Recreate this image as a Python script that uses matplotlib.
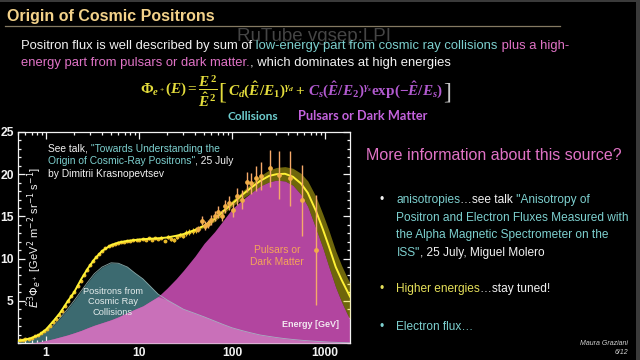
import matplotlib
matplotlib.use('Agg')
import matplotlib.pyplot as plt
import matplotlib.patches as patches
import numpy as np

W, H = 640, 360

# Model curves (energy in GeV, E^3 flux)
E_model = [0.5, 0.6, 0.7, 0.85, 1.0, 1.2, 1.4, 1.7, 2.0, 2.4, 2.8, 3.3, 4.0, 5.0, 6.0,
           7.5, 9, 11, 13, 16, 20, 25, 30, 40, 50, 65, 80, 100, 130, 160, 200, 250,
           300, 370, 450, 550, 650, 800, 950, 1100, 1300, 1500, 1700, 1850]
collisions = [0.1, 0.3, 0.5, 0.85, 1.4, 2.1, 2.9, 4.0, 5.0, 6.2, 7.2, 8.2, 9.0, 9.5, 9.45,
              9.0, 8.3, 7.6, 6.8, 5.8, 5.1, 4.5, 4.0, 3.5, 3.1, 2.6, 2.2, 1.8, 1.45, 1.2,
              0.95, 0.78, 0.65, 0.52, 0.42, 0.33, 0.27, 0.2, 0.15, 0.11, 0.08, 0.05, 0.03, 0.02]
pulsars = [0.0, 0.0, 0.02, 0.12, 0.3, 0.5, 0.7, 0.95, 1.2, 1.5, 1.8, 2.1, 2.4, 2.75, 3.1,
           3.6, 4.0, 4.4, 4.9, 5.5, 6.5, 7.6, 8.6, 10.3, 11.8, 13.2, 14.5, 15.9, 17.0, 17.8,
           18.6, 19.1, 19.3, 19.2, 18.7, 17.6, 16.2, 13.5, 11.2, 9.0, 6.6, 4.9, 3.6, 2.8]
total_fit = [0.25, 0.4, 0.6, 1.0, 1.6, 2.6, 3.5, 4.9, 6.0, 7.6, 8.8, 9.9, 10.9, 11.6, 11.9,
             12.1, 12.2, 12.3, 12.35, 12.4, 12.5, 12.7, 12.9, 13.4, 13.9, 14.7, 15.6, 16.5,
             17.6, 18.4, 19.2, 19.8, 20.0, 20.05, 19.7, 18.9, 17.8, 15.6, 13.4, 11.4, 9.0,
             7.5, 6.3, 5.5]

# Uncertainty band of the fit
E_band = [30, 40, 50, 65, 80, 100, 130, 160, 200, 250, 300, 370, 450, 550, 650, 800,
          950, 1100, 1300, 1500, 1700, 1850]
band_low = [12.8, 13.2, 13.7, 14.4, 15.3, 16.2, 17.1, 17.8, 18.6, 19.1, 19.3, 19.2, 18.7,
            17.6, 16.2, 13.5, 11.2, 9.0, 6.6, 4.9, 3.6, 2.8]
band_high = [13.0, 13.6, 14.1, 15.0, 15.9, 16.9, 18.0, 18.9, 19.8, 20.5, 20.8, 20.9, 20.7,
             20.1, 19.2, 17.3, 15.2, 13.3, 10.9, 9.2, 7.9, 7.1]

# Measured points
E_low = [0.52, 0.56, 0.6, 0.65, 0.7, 0.76, 0.82, 0.88, 0.95, 1.02, 1.1, 1.18, 1.27, 1.37,
         1.48, 1.6, 1.73, 1.87, 2.02, 2.18, 2.35, 2.54, 2.74, 2.96, 3.2, 3.45, 3.73, 4.02,
         4.35, 4.7, 5.07, 5.48, 5.92, 6.39, 6.9, 7.45, 8.05, 8.69, 9.39, 10.1, 10.9, 11.8,
         12.8, 13.8, 14.9, 16.1, 17.4, 18.8, 20.3, 21.9, 23.7, 25.6, 27.6, 29.8, 32.2, 34.8,
         37.6, 40.6]
flux_low = [0.3, 0.35, 0.42, 0.5, 0.62, 0.78, 0.95, 1.15, 1.4, 1.68, 2.05, 2.45, 2.9, 3.35,
            3.85, 4.4, 5.0, 5.55, 6.1, 6.75, 7.4, 8.05, 8.65, 9.2, 9.75, 10.2, 10.6, 10.95,
            11.25, 11.45, 11.6, 11.75, 11.85, 11.95, 12.0, 12.05, 12.1, 12.15, 12.2, 12.15,
            12.3, 12.25, 12.4, 12.2, 12.45, 12.3, 12.5, 12.1, 12.6, 12.3, 12.2, 12.6, 12.8,
            12.7, 13.0, 13.1, 13.3, 13.4]
err_low = [0.1] * 40 + [0.15] * 8 + [0.25] * 6 + [0.35] * 4

E_high = [43, 47, 51, 55, 60, 65, 71, 77, 84, 92, 102, 114, 128, 143, 161, 181, 206, 254,
          317, 415, 565, 790]
flux_high = [13.5, 14.5, 13.9, 14.1, 14.6, 15.0, 15.5, 15.1, 16.2, 16.6, 15.8, 17.4, 17.0,
             19.1, 18.9, 19.5, 19.8, 20.7, 19.9, 19.5, 16.9, 11.0]
err_high = [0.4, 0.5, 0.5, 0.5, 0.6, 0.6, 0.7, 0.7, 0.8, 0.8, 0.9, 1.0, 1.1, 1.2, 1.3, 1.5,
            1.7, 2.2, 2.8, 3.3, 4.2, 6.5]

x_ticks = [1, 10, 100, 1000]
y_ticks = [5, 10, 15, 20, 25]

WHITE = '#f2f2f2'
TEAL_TXT = '#7dd0cf'
PINK_TXT = '#e073c6'
YELLOW_TXT = '#e6e05a'
FORM_YEL = '#e3dc3c'
FORM_PUR = '#b25ad0'

plt.rcParams['font.family'] = ['Liberation Sans', 'DejaVu Sans']
plt.rcParams['mathtext.fontset'] = 'custom'
plt.rcParams['mathtext.rm'] = 'Liberation Serif:bold'
plt.rcParams['mathtext.it'] = 'Liberation Serif:italic:bold'
plt.rcParams['mathtext.bf'] = 'Liberation Serif:bold'

fig = plt.figure(figsize=(W / 100, H / 100), dpi=100, facecolor='black')
renderer = fig.canvas.get_renderer()


def fx(x):
    return x / W


def fy(y):
    return 1 - y / H


def text_run(x, y, parts, **kw):
    """Draw pieces of text one after another on one baseline (pixel coords)."""
    for s, c in parts:
        t = fig.text(fx(x), fy(y), s, color=c, va='baseline', ha='left', **kw)
        x += t.get_window_extent(renderer).width
    return x


# slide frame bits
fig.add_artist(patches.Rectangle((0, fy(2)), 1, 2 / H, transform=fig.transFigure,
                                 color='#3a3a3a', lw=0))
fig.add_artist(patches.Rectangle((fx(636), 0), 4 / W, 1, transform=fig.transFigure,
                                 color='#3a3a3a', lw=0))

# title
fig.text(fx(7), fy(20.5), 'Origin of Cosmic Positrons', color='#f3d28a', fontsize=11.5,
         fontweight='bold', va='baseline')
fig.add_artist(plt.Line2D([fx(5), fx(560)], [fy(26), fy(26)], transform=fig.transFigure,
                          color='#857a62', lw=0.9))

# watermark (drawn under the body text)
fig.text(fx(237), fy(41), 'RuTube vgsep:LPI', color='#8a8a8a', alpha=0.5, fontsize=13.5,
         va='baseline')

# body text
text_run(21, 48.5, [('Positron flux is well described by sum of', WHITE),
                    (' low-energy part from cosmic ray collisions', TEAL_TXT),
                    (' plus a high-', PINK_TXT)], fontsize=9.4)
text_run(21, 66, [('energy part from pulsars or dark matter.', PINK_TXT),
                  (', which dominates at high energies', WHITE)], fontsize=9.4)

# formula
fs_f = 11
x = text_run(140, 95, [(r'$\Phi_{e^+}(E) = \dfrac{E^2}{\hat{E}^2}$', FORM_YEL)],
             fontsize=fs_f)
x = text_run(x + 1, 99, [('[', FORM_YEL)], fontsize=17, family='Liberation Serif')
x = text_run(x + 1, 95, [(r'$C_d(\hat{E}/E_1)^{\gamma_d} + $', FORM_YEL)], fontsize=fs_f)
x = text_run(x + 3, 95, [(r'$C_s(\hat{E}/E_2)^{\gamma_s}\mathrm{exp}(-\hat{E}/E_s)$', FORM_PUR)],
             fontsize=fs_f)
text_run(x, 99, [(']', '#c8c8c8')], fontsize=17, family='Liberation Serif')

fig.text(fx(227), fy(120), 'Collisions', color='#6fcfd0', fontsize=8.6, fontweight='bold',
         family='Lato', va='baseline')
fig.text(fx(298), fy(120), 'Pulsars or Dark Matter', color='#c463de', fontsize=9.2,
         fontweight='bold', family='Lato', va='baseline')

# chart
ax = fig.add_axes([fx(18), fy(343), 332 / W, 211 / H])
ax.set_facecolor('black')
ax.set_xscale('log')

ax.fill_between(E_model, 0, collisions, color='#3c6a70', lw=0, zorder=1)
ax.fill_between(E_model, 0, pulsars, color='#b2459f', lw=0, zorder=2)
ax.fill_between(E_model, 0, np.minimum(collisions, pulsars), color='#c970b9', lw=0, zorder=3)
ax.plot(E_model, collisions, color='#a5c9c9', lw=0.6, alpha=0.8, zorder=4)
ax.fill_between(E_band, band_low, band_high, color='#f5e41a', alpha=0.45, lw=0, zorder=5)

ax.errorbar(E_low, flux_low, yerr=err_low, fmt='o', ms=1.8, color='#e8b82a',
            ecolor='#e8b82a', elinewidth=0.8, zorder=6)
ax.plot(E_model, total_fit, color='#fff235', lw=1.4, zorder=7)
ax.errorbar(E_high, flux_high, yerr=err_high, fmt='o', ms=2.4, color='#f2ae48',
            ecolor='#f5a96a', elinewidth=1.0, zorder=8)

ax.set_xlim(0.5, 1850)
ax.set_ylim(0, 25)
ax.set_xticks(x_ticks)
ax.set_xticklabels([str(v) for v in x_ticks])
ax.set_yticks(y_ticks)
ax.set_yticklabels([str(v) for v in y_ticks])
ax.yaxis.set_minor_locator(matplotlib.ticker.MultipleLocator(1))
ax.tick_params(which='both', direction='in', top=True, right=True, colors=WHITE,
               labelcolor=WHITE, width=0.9)
ax.tick_params(which='major', length=5, labelsize=8.7, pad=3)
ax.tick_params(which='minor', length=2.5)
for lab in ax.get_xticklabels() + ax.get_yticklabels():
    lab.set_fontweight('bold')
for sp in ax.spines.values():
    sp.set_color(WHITE)
    sp.set_linewidth(0.9)

ax.text(0.05, 0.5, r'$\tilde{E}^3\Phi_{e^+}$ [GeV$^2$ m$^{-2}$ sr$^{-1}$ s$^{-1}$]',
        transform=ax.transAxes, rotation=90, color=WHITE, fontsize=8, ha='center',
        va='center', math_fontfamily='dejavusans')

text_run(48, 151.7, [('See talk,', WHITE), (' "Towards Understanding the', TEAL_TXT)],
         fontsize=7.4)
text_run(48, 164.3, [('Origin of Cosmic-Ray Positrons"', TEAL_TXT), (', 25 July', WHITE)],
         fontsize=7.4)
text_run(48, 177.3, [('by Dimitrii Krasnopevtsev', WHITE)], fontsize=7.4)

fig.text(fx(113), fy(302), 'Positrons from\nCosmic Ray\nCollisions', color='#e4ecec',
         fontsize=6.7, ha='center', va='center', linespacing=1.2)
fig.text(fx(277), fy(256), 'Pulsars or\nDark Matter', color='#f5a45a', fontsize=7.4,
         ha='center', va='center', linespacing=1.15)
fig.text(fx(311), fy(327.3), 'Energy [GeV]', color='#f2e8f0', fontsize=6.5,
         fontweight='bold', ha='center', va='baseline')

# right panel
fig.text(fx(366), fy(160), 'More information about this source?', color=PINK_TXT,
         fontsize=11.5, va='baseline')

bx, tx = 379, 396.5
fs_b = 8.6
fig.text(fx(bx), fy(203.3), '\u2022', color=WHITE, fontsize=fs_b, va='baseline')
text_run(tx, 203.3, [('anisotropies', TEAL_TXT), ('\u2026see talk', WHITE),
                     (' "Anisotropy of', TEAL_TXT)], fontsize=fs_b)
text_run(tx, 221, [('Positron and Electron Fluxes Measured with', TEAL_TXT)], fontsize=fs_b)
text_run(tx, 238.3, [('the Alpha Magnetic Spectrometer on the', TEAL_TXT)], fontsize=fs_b)
text_run(tx, 255.7, [('ISS"', TEAL_TXT), (', 25 July, Miguel Molero', WHITE)], fontsize=fs_b)

fig.text(fx(bx), fy(291.7), '\u2022', color=YELLOW_TXT, fontsize=fs_b, va='baseline')
text_run(tx, 291.7, [('Higher energies', YELLOW_TXT), ('\u2026stay tuned!', WHITE)],
         fontsize=fs_b)

fig.text(fx(bx), fy(330), '\u2022', color=TEAL_TXT, fontsize=fs_b, va='baseline')
text_run(tx, 330, [('Electron flux\u2026', TEAL_TXT)], fontsize=fs_b)

fig.text(fx(628), fy(345), 'Maura Graziani', color='#cfcfcf', fontsize=5, style='italic',
         ha='right', va='baseline')
fig.text(fx(628), fy(354), '6/12', color='#cfcfcf', fontsize=5, style='italic',
         ha='right', va='baseline')

fig.savefig('out.png', dpi=100, facecolor='black')
